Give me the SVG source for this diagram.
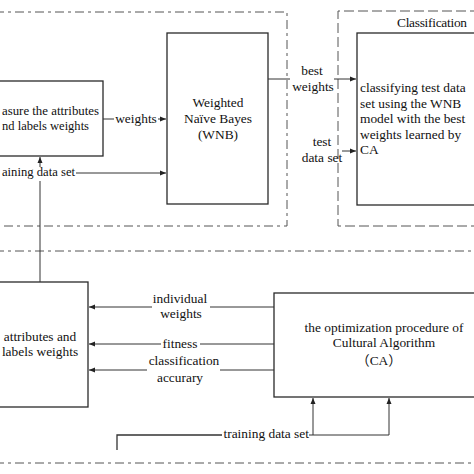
<svg xmlns="http://www.w3.org/2000/svg" width="474" height="474" viewBox="0 0 474 474">
<defs>
<style>
text{font-family:"Liberation Serif","Times New Roman","Noto Sans CJK SC",serif;font-size:13.4px;fill:#111}
.m{text-anchor:middle}
.e{text-anchor:end}
.box{fill:none;stroke:#2a2a2a;stroke-width:1.3}
.ln{fill:none;stroke:#333;stroke-width:1}
.dd{fill:none;stroke:#555;stroke-width:1;stroke-dasharray:9,4,3,4}
.da{fill:none;stroke:#555;stroke-width:1;stroke-dasharray:10,4}
</style>
<marker id="ah" viewBox="0 0 6 6" refX="6" refY="3" markerWidth="6" markerHeight="6" markerUnits="userSpaceOnUse" orient="auto">
<path d="M0,0.5 L6,3 L0,5.5 Z" fill="#222"/>
</marker>
</defs>
<rect width="474" height="474" fill="#fff"/>

<g id="regions">
<path class="dd" d="M-5,12 H287 V226 H-5"/>
<path class="da" d="M480,11 H338 V226 H480"/>
<path class="dd" d="M-5,251 H480"/>
<path class="dd" d="M-5,463 H480"/>
<text id="classification-label" x="397" y="27" textLength="70" lengthAdjust="spacing">Classification</text>
</g>

<g id="node-measure-top">
<rect class="box" x="-10" y="81" width="113" height="75"/>
<text x="2" y="115" textLength="97" lengthAdjust="spacingAndGlyphs">asure the attributes</text>
<text x="2" y="130" textLength="87" lengthAdjust="spacingAndGlyphs">nd labels weights</text>
</g>

<g id="node-wnb">
<rect class="box" x="167" y="33" width="101" height="171"/>
<text class="m" x="218" y="107">Weighted</text>
<text class="m" x="218" y="123">Naïve Bayes</text>
<text class="m" x="218" y="139">(WNB)</text>
</g>

<g id="node-classify">
<rect class="box" x="357" y="33" width="130" height="172"/>
<text x="360" y="92">classifying test data</text>
<text x="360" y="107.5">set using the WNB</text>
<text x="360" y="123">model with the best</text>
<text x="360" y="138.5">weights learned by</text>
<text x="360" y="154">CA</text>
</g>

<g id="node-measure-bottom">
<rect class="box" x="-10" y="282" width="98" height="125"/>
<text class="m" x="40" y="341">attributes and</text>
<text class="m" x="40" y="356">labels weights</text>
</g>

<g id="node-ca">
<rect class="box" x="274" y="293" width="220" height="104"/>
<text class="m" x="384" y="332">the optimization procedure of</text>
<text class="m" x="384" y="347">Cultural Algorithm</text>
<text class="m" x="379" y="365">（CA）</text>
</g>

<g id="connectors">
<path class="ln" d="M103,119 H114"/>
<path class="ln" d="M158,119 H166" marker-end="url(#ah)"/>
<text class="m" x="136" y="123">weights</text>

<text x="2" y="176" textLength="73" lengthAdjust="spacingAndGlyphs">aining data set</text>
<path class="ln" d="M76,173 H166" marker-end="url(#ah)"/>

<path class="ln" d="M40,282 V181"/>
<path class="ln" d="M40,167 V157" marker-end="url(#ah)"/>

<path class="ln" d="M268,79 H290"/>
<path class="ln" d="M334,79 H356" marker-end="url(#ah)"/>
<text class="m" x="312" y="75">best</text>
<text class="m" x="313" y="91">weights</text>

<text class="m" x="322" y="146">test</text>
<text class="m" x="322" y="162">data set</text>
<path class="ln" d="M342,151 H356" marker-end="url(#ah)"/>

<path class="ln" d="M274,307 H210"/>
<path class="ln" d="M152,307 H89" marker-end="url(#ah)"/>
<text class="m" x="180" y="303">individual</text>
<text class="m" x="181" y="318">weights</text>

<path class="ln" d="M274,344 H200"/>
<path class="ln" d="M161,344 H89" marker-end="url(#ah)"/>
<text class="m" x="180" y="348">fitness</text>

<path class="ln" d="M274,370 H220"/>
<path class="ln" d="M147,370 H89" marker-end="url(#ah)"/>
<text class="m" x="184" y="365">classification</text>
<text class="m" x="180" y="382">accurary</text>

<path class="ln" d="M117,450 V435 H222" style="stroke-width:1.3"/>
<text class="e" x="309" y="438">training data set</text>
<path class="ln" d="M309,435 H389 V398" marker-end="url(#ah)"/>
<path class="ln" d="M313,435 V398" marker-end="url(#ah)"/>
</g>
</svg>
